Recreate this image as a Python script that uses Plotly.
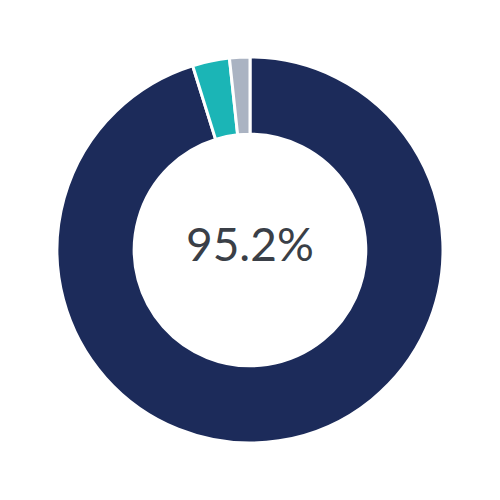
import plotly.graph_objects as go

labels = ["Primary", "Secondary", "Other"]
values = [95.2, 3.1, 1.7]
colors = ["#1c2b5a", "#1bb5b6", "#aab3c2"]
center_label = "95.2%"

fig = go.Figure(go.Pie(
    labels=labels,
    values=values,
    hole=0.6,
    sort=False,
    direction="clockwise",
    rotation=0,
    marker=dict(colors=colors, line=dict(color="white", width=3)),
    textinfo="none",
    hoverinfo="label+percent",
    domain=dict(x=[0.098, 0.870], y=[0.130, 0.902]),
    showlegend=False,
))
fig.add_annotation(
    text=center_label, x=0.484, y=0.53, xref="paper", yref="paper",
    showarrow=False, font=dict(family="Lato", size=46, color="#3a3f47"),
)
fig.update_layout(
    width=500, height=500,
    margin=dict(l=0, r=0, t=0, b=0),
    paper_bgcolor="white", plot_bgcolor="white",
)
fig.write_html("out.html")
